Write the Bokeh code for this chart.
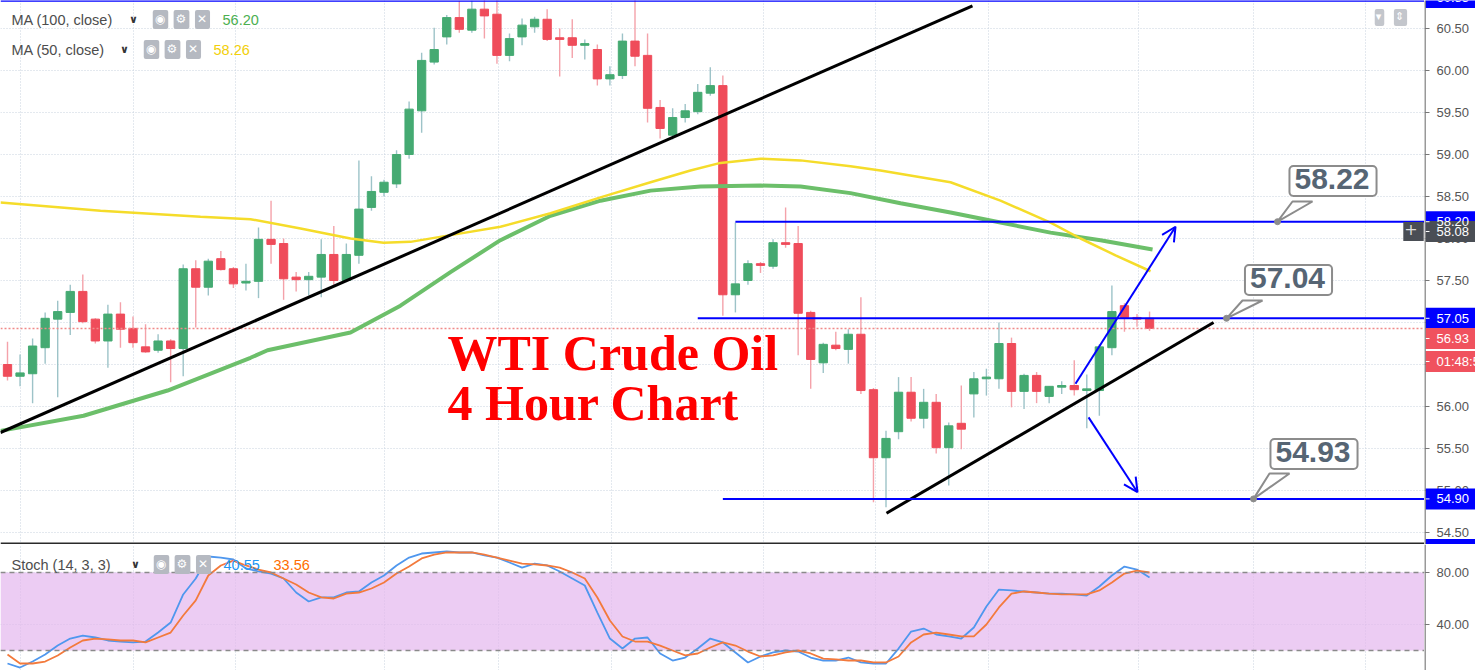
from bokeh.plotting import figure
from bokeh.models import (Range1d, FixedTicker, Label, Span, BoxAnnotation, Arrow, OpenHead,
                          ColumnDataSource)
from bokeh.layouts import column, row
from bokeh.core.properties import value
from bokeh.embed import file_html
from bokeh.resources import INLINE

# ---------------- data ----------------
open_ = [56.50, 56.36, 56.39, 56.70, 57.04, 57.12, 57.37, 57.04, 56.78, 57.10,
         56.93, 56.71, 56.67, 56.78, 56.69, 57.64, 57.42, 57.76, 57.64, 57.47,
         57.49, 57.99, 57.94, 57.54, 57.51, 57.54, 57.81, 57.50, 57.80, 58.37,
         58.55, 58.65, 59.00, 59.52, 60.10, 60.40, 60.63, 60.48, 60.73, 60.67,
         60.18, 60.40, 60.52, 60.61, 60.39, 60.39, 60.30, 60.25, 59.90, 59.94,
         60.35, 60.18, 59.56, 59.23, 59.44, 59.51, 59.73, 59.82, 57.33, 57.50,
         57.70, 57.67, 57.95, 57.94, 57.12, 56.52, 56.73, 56.68, 56.86, 56.20,
         55.39, 55.70, 56.17, 55.86, 56.05, 55.51, 55.80, 56.15, 56.33, 56.33,
         56.75, 56.18, 56.37, 56.12, 56.23, 56.25, 56.19, 56.19, 56.70, 57.20,
         57.06, 57.05]
high = [56.77, 56.62, 56.81, 57.12, 57.26, 57.45, 57.57, 57.05, 57.21, 57.24,
        57.07, 56.98, 56.86, 56.80, 57.69, 57.74, 57.76, 57.85, 57.66, 57.70,
        58.13, 58.45, 58.00, 57.60, 57.60, 57.99, 58.15, 57.94, 58.93, 58.74,
        58.70, 59.05, 59.63, 60.21, 60.51, 60.66, 60.83, 60.83, 60.85, 60.85,
        60.44, 60.62, 60.64, 60.73, 60.50, 60.61, 60.37, 60.31, 60.05, 60.44,
        60.85, 60.44, 59.65, 59.55, 59.60, 59.84, 60.04, 59.94, 58.19, 57.74,
        57.72, 57.99, 58.37, 58.15, 57.14, 56.76, 56.89, 56.92, 57.30, 56.22,
        55.71, 56.35, 56.35, 56.21, 56.15, 55.81, 56.25, 56.41, 56.45, 57.00,
        56.82, 56.39, 56.41, 56.24, 56.30, 56.55, 56.38, 56.74, 57.44, 57.23,
        57.10, 57.13]
low = [56.31, 56.24, 56.04, 56.51, 56.11, 56.85, 56.99, 56.75, 56.46, 56.70,
       56.70, 56.64, 56.64, 56.29, 56.36, 56.94, 57.32, 57.62, 57.41, 57.38,
       57.29, 57.70, 57.27, 57.37, 57.32, 57.30, 57.45, 57.48, 57.70, 58.33,
       58.50, 58.60, 58.95, 59.26, 60.07, 60.31, 60.45, 60.45, 60.38, 60.08,
       60.11, 60.30, 60.45, 60.35, 59.93, 60.15, 60.13, 59.82, 59.82, 59.90,
       60.05, 59.38, 59.19, 59.18, 59.38, 59.48, 59.70, 57.08, 57.12, 57.45,
       57.59, 57.64, 57.89, 56.61, 56.21, 56.40, 56.67, 56.51, 56.15, 54.86,
       54.80, 55.61, 55.82, 55.74, 55.44, 55.06, 55.49, 55.87, 56.13, 56.21,
       55.99, 55.97, 56.04, 56.04, 56.15, 56.13, 55.74, 55.89, 56.61, 56.89,
       56.95, 56.90]
close = [56.36, 56.40, 56.72, 57.05, 57.13, 57.37, 57.01, 56.78, 57.10, 56.92,
         56.76, 56.65, 56.78, 56.69, 57.64, 57.42, 57.73, 57.63, 57.46, 57.49,
         57.99, 57.93, 57.52, 57.51, 57.55, 57.81, 57.50, 57.81, 58.35, 58.56,
         58.67, 59.00, 59.54, 60.12, 60.25, 60.63, 60.49, 60.73, 60.65, 60.18,
         60.38, 60.54, 60.61, 60.37, 60.37, 60.30, 60.32, 59.90, 59.95, 60.35,
         60.17, 59.55, 59.31, 59.44, 59.52, 59.74, 59.82, 57.33, 57.46, 57.70,
         57.68, 57.95, 57.93, 57.11, 56.56, 56.74, 56.69, 56.86, 56.19, 55.39,
         55.62, 56.17, 55.86, 56.05, 55.51, 55.77, 55.73, 56.33, 56.35, 56.75,
         56.18, 56.37, 56.18, 56.24, 56.25, 56.20, 56.21, 56.71, 57.13, 57.06,
         57.04, 56.93]

ma100_idx = [-0.56, 6.06, 12.75, 19.36, 20.72, 27.33, 31.31, 35.3, 39.28, 43.27, 47.25,
             51.24, 55.22, 60.0, 63.19, 67.17, 71.16, 75.14, 79.12, 83.11, 87.09, 91.24]
ma100_val = [55.71, 55.89, 56.19, 56.58, 56.67, 56.88, 57.20, 57.60, 57.98, 58.27, 58.45,
             58.57, 58.62, 58.63, 58.62, 58.54, 58.42, 58.31, 58.19, 58.07, 57.98, 57.87]
ma50_idx = [-0.56, 7.41, 15.38, 19.36, 23.35, 27.33, 29.96, 32.11, 35.3, 39.28, 43.27,
            47.25, 51.24, 54.42, 56.81, 60.0, 63.19, 67.17, 69.56, 75.14, 79.12, 83.11,
            85.5, 88.29, 91.08]
ma50_val = [58.43, 58.33, 58.26, 58.23, 58.12, 58.00, 57.95, 57.96, 58.04, 58.14, 58.30,
            58.49, 58.67, 58.81, 58.90, 58.95, 58.93, 58.86, 58.81, 58.67, 58.45, 58.19,
            58.00, 57.80, 57.61]

stoch_k = [10.0, 6.9, 11.5, 16.9, 23.8, 29.2, 31.5, 30.0, 27.7, 26.9,
           26.2, 26.9, 33.8, 41.5, 63.1, 75.4, 92.3, 91.5, 90.0, 83.1,
           80.8, 79.2, 75.4, 64.6, 57.7, 60.8, 60.8, 64.6, 65.4, 72.3,
           77.7, 85.4, 91.5, 94.6, 95.4, 96.2, 95.4, 95.4, 93.1, 91.5,
           87.7, 83.8, 86.9, 85.4, 80.8, 75.4, 70.0, 49.2, 29.2, 21.5,
           29.2, 30.0, 17.7, 12.3, 14.6, 21.5, 29.2, 26.2, 18.5, 10.8,
           15.4, 18.5, 20.0, 19.2, 14.6, 12.3, 12.3, 14.6, 10.8, 10.0,
           10.0, 21.5, 34.6, 36.9, 32.3, 30.8, 29.2, 37.7, 53.8, 66.9,
           66.2, 65.4, 64.6, 63.8, 63.8, 63.1, 62.3, 69.2, 77.7, 84.6,
           82.3, 76.2]
stoch_d = [16.9, 10.0, 10.0, 11.5, 16.2, 22.3, 27.7, 29.2, 28.5, 27.7,
           27.7, 26.2, 30.0, 33.8, 46.9, 58.5, 77.7, 85.4, 89.2, 85.4,
           82.3, 80.0, 75.4, 70.8, 64.6, 60.8, 60.0, 63.8, 64.6, 67.7,
           72.3, 79.2, 84.6, 90.8, 93.8, 95.4, 95.4, 95.4, 93.8, 91.5,
           89.2, 86.9, 86.2, 85.4, 83.8, 80.0, 75.4, 60.8, 43.1, 30.8,
           26.9, 26.9, 23.8, 20.0, 16.2, 17.7, 22.3, 26.2, 23.8, 19.2,
           15.4, 16.2, 18.5, 20.0, 17.7, 13.8, 13.1, 12.3, 12.3, 10.8,
           10.8, 15.4, 26.2, 32.3, 33.8, 32.3, 30.8, 30.8, 40.0, 53.1,
           63.8, 65.4, 64.6, 63.8, 63.1, 63.1, 63.1, 66.2, 72.3, 79.2,
           81.5, 80.0]

trend1_idx = [-0.56, 76.89]
trend1_val = [55.69, 60.77]
trend2_idx = [70.04, 96.1]
trend2_val = [54.73, 57.00]

level_val = [58.20, 57.05, 54.90]
level_start = [58.0, 55.0, 57.0]
top_line = 60.83
last_price = 56.93

arrow_up = [85.1, 56.27, 93.07, 58.14]
arrow_down = [86.14, 55.87, 90.04, 54.98]

callout_text = ["58.22", "57.04", "54.93"]
price_ticks = [54.5, 55.0, 55.5, 56.0, 56.5, 57.0, 57.5, 58.0, 58.5, 59.0, 59.5, 60.0, 60.5]
stoch_ticks = [40, 80]
grid_idx = [1.0, 10.0, 18.2, 30.0, 39.1, 48.1, 60.2, 69.2, 78.2, 90.1, 99.3, 108.2]

# ---------------- helpers (reference-pixel -> data) ----------------
def ix(px):
    return (px - 7.0) / 12.55

def py(pyv):
    return 60.5 - (pyv - 28.0) / 84.0

def sv(pyv):
    return 80.0 - (pyv - 572.0) / 1.3

X0, X1 = ix(0), ix(1424)
FRAME_W, AXIS_W = 1424, 51
MAIN_H, STOCH_H = 544, 126
FONT = "Liberation Sans"
BLUE = "#0000ff"
UP, DOWN = "#45aa72", "#ef4c5a"
UPW, DOWNW = "#9dc3c8", "#f4a2aa"
GRID = "#c9d3de"
AXC = "#777777"


def base_fig(w, h, xr, yr):
    f = figure(width=w, height=h, x_range=xr, y_range=yr, output_backend="svg",
               toolbar_location=None, x_axis_location=None, y_axis_location=None,
               min_border=0)
    f.min_border_left = f.min_border_right = f.min_border_top = f.min_border_bottom = 0
    f.outline_line_color = None
    f.background_fill_color = "white"
    f.border_fill_color = "white"
    return f


# ---------------- main pane ----------------
p = base_fig(FRAME_W, MAIN_H, Range1d(X0, X1), Range1d(py(MAIN_H), py(0)))
p.xgrid.ticker = FixedTicker(ticks=grid_idx)
p.ygrid.ticker = FixedTicker(ticks=price_ticks)
for g in (p.xgrid, p.ygrid):
    g.grid_line_color = GRID
    g.grid_line_dash = "1 2"
    g.grid_line_width = 1

idx = list(range(len(open_)))
src = ColumnDataSource(dict(
    x=idx, h=high, l=low,
    top=[max(o, c) for o, c in zip(open_, close)],
    bottom=[min(o, c) for o, c in zip(open_, close)],
    body=[UP if c >= o else DOWN for o, c in zip(open_, close)],
    wick=[UPW if c >= o else DOWNW for o, c in zip(open_, close)],
))
p.segment(x0="x", y0="l", x1="x", y1="h", line_color="wick", line_width=1.4, source=src)
p.vbar(x="x", width=0.66, top="top", bottom="bottom", fill_color="body",
       line_color="body", line_width=1, source=src)

p.line([X0, X1], [last_price, last_price], line_color="#f08a8a", line_dash="2 2", line_width=1.5)

p.line(ma100_idx, ma100_val, line_color="#6cbf6a", line_width=4)
p.line(ma50_idx, ma50_val, line_color="#f5dc2a", line_width=2.5)

p.line(trend1_idx, trend1_val, line_color="black", line_width=3)
p.line(trend2_idx, trend2_val, line_color="black", line_width=3)

p.line([X0, X1], [top_line, top_line], line_color=BLUE, line_width=2)
for lv, st in zip(level_val, level_start):
    p.line([st, X1], [lv, lv], line_color=BLUE, line_width=2)

# pane separator
p.line([X0, X1], [py(543), py(543)], line_color="#2a2a2a", line_width=2)

for a in (arrow_up, arrow_down):
    p.add_layout(Arrow(end=OpenHead(size=14, line_color=BLUE, line_width=2),
                       x_start=a[0], y_start=a[1], x_end=a[2], y_end=a[3],
                       line_color=BLUE, line_width=2))

callout_geom = [  # anchor x, box left, box right, box top, box bottom (reference px)
    (1277, 1288, 1377, 159, 202),
    (1226, 1238, 1338, 258, 301),
    (1253, 1265, 1362, 433, 474),
]
for txt, lv, (ax, bl, br, bt, bb) in zip(callout_text, level_val, callout_geom):
    p.patch([ix(bl + 4), ix(bl + 24), ix(ax)], [py(bb - 1), py(bb - 1), lv],
            fill_color="white", line_color="#8c8c8c", line_width=2)
    p.scatter([ix(ax)], [lv], size=6, fill_color="#8c8c8c", line_color="#8c8c8c")
    p.add_layout(Label(x=ix((bl + br) / 2), y=py((bt + bb) / 2), text=txt,
                       text_align="center", text_baseline="middle",
                       text_font=FONT, text_font_style="bold", text_font_size="30px",
                       text_color="#566574", background_fill_color="white",
                       border_line_color="#8c8c8c", border_line_width=2,
                       padding=(5, 7, 3, 7), border_radius=4))

p.add_layout(Label(x=ix(447), y=py(380), text="WTI Crude Oil", text_font="Liberation Serif",
                   text_font_style="bold", text_font_size="50px", text_color="#ff0000"))
p.add_layout(Label(x=ix(447), y=py(430), text="4 Hour Chart", text_font="Liberation Serif",
                   text_font_style="bold", text_font_size="50px", text_color="#ff0000"))


def legend_row(fig, yv, xs, name, chev_x, icon_xs, values):
    fig.add_layout(Label(x=xs, y=yv, text=name, text_baseline="middle", text_font=FONT,
                         text_font_size="14.5px", text_color="#4d4d4d"))
    fig.add_layout(Label(x=chev_x, y=yv, text="\u2228", text_baseline="middle",
                         text_align="center", text_font="DejaVu Sans", text_font_size="11px",
                         text_font_style="bold", text_color="#333333"))
    for sym, xc in zip(["\u25c9", "\u2699", "\u2715"], icon_xs):
        fig.add_layout(Label(x=xc, y=yv, text=sym, text_align="center", text_baseline="middle",
                             text_font="DejaVu Sans", text_font_size="12px", text_color="white",
                             background_fill_color="#b5b9c1", padding=(2, 3, 2, 3),
                             border_radius=2))
    for txt, col, xv in values:
        fig.add_layout(Label(x=xv, y=yv, text=txt, text_baseline="middle", text_font=FONT,
                             text_font_size="14.5px", text_color=col))


legend_row(p, py(19), ix(11), "MA (100, close)", ix(133), [ix(160), ix(181), ix(202)],
           [("56.20", "#4caf50", ix(222))])
legend_row(p, py(49), ix(11), "MA (50, close)", ix(124), [ix(151), ix(172), ix(193)],
           [("58.26", "#f2cf0a", ix(213))])

for sym, xc in zip(["\u25be", "\u21d5"], [ix(1379), ix(1400)]):
    p.add_layout(Label(x=xc, y=py(17), text=sym, text_align="center", text_baseline="middle",
                       text_font="DejaVu Sans", text_font_size="11px", text_color="white",
                       background_fill_color="#c3c6cc", padding=(1, 3, 1, 3), border_radius=2))

p.add_layout(Label(x=ix(1413), y=py(231), text="+", text_align="center", text_baseline="middle",
                   text_font="DejaVu Sans", text_font_size="16px", text_color="#dddddd",
                   background_fill_color="#4a4e55", padding=(1, 6, 1, 6)))

# ---------------- price axis panel ----------------
pa = base_fig(AXIS_W, MAIN_H, Range1d(0, AXIS_W), p.y_range)
pa.grid.visible = False
pa.add_layout(Span(location=0.5, dimension="height", line_color=AXC, line_width=1.5))
pa.segment(x0=0, y0=price_ticks, x1=5, y1=price_ticks, line_color=AXC, line_width=1)
pa.text(x=12, y=price_ticks, text=["%.2f" % t for t in price_ticks],
        text_baseline="middle", text_font=value(FONT), text_font_size="13px",
        text_color="#555555")

badge_y = [py(-3), level_val[0], py(231), level_val[1], py(338), py(361), level_val[2], py(549)]
badge_txt = ["60.85", "58.20", "58.08", "57.05", "%.2f" % last_price, "01:48:55", "54.90", "54.33"]
badge_bg = [BLUE, BLUE, "#4a4e55", BLUE, "#f0525e", "#f0525e", BLUE, BLUE]
pa.rect(x=AXIS_W / 2 + 1, y=badge_y, width=AXIS_W, height=21, height_units="screen",
        fill_color=badge_bg, line_color=None)
pa.segment(x0=0, y0=badge_y, x1=5, y1=badge_y, line_color="white", line_width=1)
pa.text(x=12, y=badge_y, text=badge_txt, text_baseline="middle", text_font=value(FONT),
        text_font_size="13px", text_color="white")

# ---------------- stochastic pane ----------------
p2 = base_fig(FRAME_W, STOCH_H, p.x_range, Range1d(sv(670), sv(544)))
p2.xgrid.ticker = FixedTicker(ticks=grid_idx)
p2.ygrid.ticker = FixedTicker(ticks=stoch_ticks)
for g in (p2.xgrid, p2.ygrid):
    g.grid_line_color = GRID
    g.grid_line_dash = "1 2"
    g.grid_line_width = 1

p2.add_layout(BoxAnnotation(bottom=20, top=80, fill_color="#e4b6ee", fill_alpha=0.7,
                            line_color=None, level="underlay"))
for lvl in (20, 80):
    p2.add_layout(Span(location=lvl, dimension="width", line_color="#8a8a8a",
                       line_dash="5 4", line_width=1.5))

p2.line(idx, stoch_k, line_color="#4f97ee", line_width=1.8)
p2.line(idx, stoch_d, line_color="#f37a3c", line_width=1.8)

legend_row(p2, sv(564), ix(11), "Stoch (14, 3, 3)", ix(135), [ix(161), ix(182), ix(203)],
           [("40.55", "#2196f3", ix(223)), ("33.56", "#ff6d00", ix(273))])

pa2 = base_fig(AXIS_W, STOCH_H, Range1d(0, AXIS_W), p2.y_range)
pa2.grid.visible = False
pa2.add_layout(Span(location=0.5, dimension="height", line_color=AXC, line_width=1.5))
pa2.segment(x0=0, y0=stoch_ticks, x1=5, y1=stoch_ticks, line_color=AXC, line_width=1)
pa2.text(x=12, y=stoch_ticks, text=["%.2f" % t for t in stoch_ticks],
         text_baseline="middle", text_font=value(FONT), text_font_size="13px",
         text_color="#555555")

layout = column(row(p, pa, spacing=0), row(p2, pa2, spacing=0), spacing=0)
open("out.html", "w").write(file_html(layout, INLINE))
